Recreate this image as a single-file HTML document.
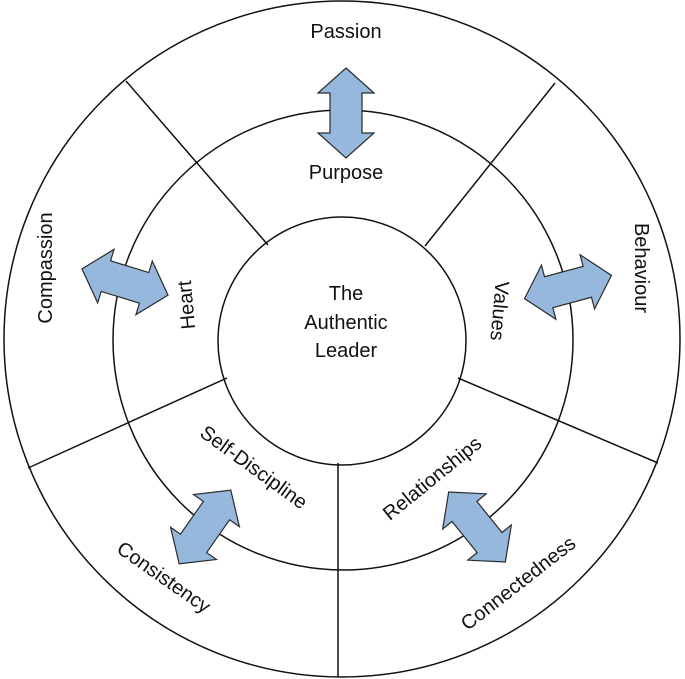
<!DOCTYPE html>
<html><head><meta charset="utf-8"><style>
html,body{margin:0;padding:0;background:#fff;}
svg{display:block;}
text{font-family:"Liberation Sans",Arial,sans-serif;font-size:20px;fill:#111;}
</style></head><body>
<svg width="685" height="679" viewBox="0 0 685 679" xmlns="http://www.w3.org/2000/svg">
<defs>
<path id="arr" d="M-45,0 L-20,-28 L-20,-16 L20,-16 L20,-28 L45,0 L20,28 L20,16 L-20,16 L-20,28 Z" fill="#95b8dc" stroke="#2a2a2a" stroke-width="1.2"/>
</defs>
<g fill="none" stroke="#111" stroke-width="1.5">
<circle cx="342" cy="339" r="338"/>
<circle cx="343" cy="340" r="230"/>
<circle cx="342" cy="341" r="124"/>
<line x1="126" y1="81" x2="268" y2="245"/>
<line x1="555" y1="83" x2="425" y2="246"/>
<line x1="28" y1="468" x2="227" y2="378"/>
<line x1="658" y1="463" x2="458" y2="378"/>
<line x1="338" y1="463" x2="338" y2="677"/>
</g>
<use href="#arr" transform="translate(346,113) rotate(90)"/>
<use href="#arr" transform="translate(125,282) rotate(17)"/>
<use href="#arr" transform="translate(568,287) rotate(-15)"/>
<use href="#arr" transform="translate(205,527) rotate(-55)"/>
<use href="#arr" transform="translate(477,527) rotate(51)"/>
<text x="346" y="38" text-anchor="middle">Passion</text>
<text x="346" y="179" text-anchor="middle">Purpose</text>
<text x="346" y="300" text-anchor="middle">The</text>
<text x="346" y="329" text-anchor="middle">Authentic</text>
<text x="346" y="357" text-anchor="middle">Leader</text>
<text transform="translate(45,268) rotate(-90)" text-anchor="middle" dy="7">Compassion</text>
<text transform="translate(186,305) rotate(-95)" text-anchor="middle" dy="7">Heart</text>
<text transform="translate(500,311) rotate(95)" text-anchor="middle" dy="7">Values</text>
<text transform="translate(642,268) rotate(90)" text-anchor="middle" dy="7">Behaviour</text>
<text transform="translate(254,467) rotate(36)" text-anchor="middle" dy="7">Self-Discipline</text>
<text transform="translate(432,478) rotate(-39)" text-anchor="middle" dy="7">Relationships</text>
<text transform="translate(164,577) rotate(35)" text-anchor="middle" dy="7">Consistency</text>
<text transform="translate(518,583) rotate(-38)" text-anchor="middle" dy="7">Connectedness</text>
</svg>
</body></html>
